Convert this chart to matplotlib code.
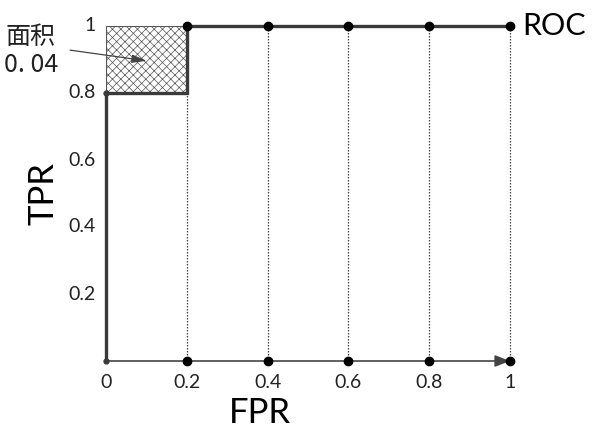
import matplotlib
matplotlib.use("Agg")
import matplotlib.pyplot as plt
from matplotlib.patches import Rectangle

# data
roc_fpr = [0, 0, 0.2, 0.2, 0.4, 0.6, 0.8, 1.0]
roc_tpr = [0, 0.8, 0.8, 1.0, 1.0, 1.0, 1.0, 1.0]
grid_x = [0.2, 0.4, 0.6, 0.8, 1.0]
x_ticks = [0, 0.2, 0.4, 0.6, 0.8, 1]
x_tick_labels = ["0", "0.2", "0.4", "0.6", "0.8", "1"]
y_ticks = [0.2, 0.4, 0.6, 0.8, 1]
y_tick_labels = ["0.2", "0.4", "0.6", "0.8", "1"]
area_x = [0, 0.2]
area_y = [0.8, 1.0]
area_label = "面积\n0. 04"

plt.rcParams['font.family'] = ['Lato', 'DejaVu Sans']
plt.rcParams['hatch.linewidth'] = 0.5
plt.rcParams['hatch.color'] = '#555555'
fig = plt.figure(figsize=(5.99, 4.30), dpi=100)
ax = fig.add_axes([106/599, 69/430, 404/599, 335/430])
ax.set_xlim(0, 1)
ax.set_ylim(0, 1)
ax.axis('off')

dark = '#3a3a3a'

# hatched area
ax.add_patch(Rectangle((area_x[0], area_y[0]), area_x[1]-area_x[0], area_y[1]-area_y[0],
                       facecolor='white', edgecolor='#555555', hatch='xxxx', lw=0.8, zorder=1))

# dotted verticals
for x in grid_x:
    ax.plot([x, x], [0, 1], ls=(0, (1.2, 1.2)), color='#444444', lw=0.9, zorder=2, clip_on=False)

# axes with arrows
ax.annotate('', xy=(1.0, 0), xytext=(0, 0),
            arrowprops=dict(arrowstyle='-|>,head_length=0.9,head_width=0.35', color='#444444', lw=1.2,
                            shrinkA=0, shrinkB=0), zorder=3)
ax.annotate('', xy=(0, 1.03), xytext=(0, 0),
            arrowprops=dict(arrowstyle='-|>,head_length=0.9,head_width=0.35', color='#444444', lw=1.2,
                            shrinkA=0, shrinkB=0), zorder=3)

# ROC line
ax.plot(roc_fpr, roc_tpr, color=dark, lw=2.4, zorder=4, solid_joinstyle='miter', clip_on=False)
ax.plot(grid_x, [1]*len(grid_x), 'o', color='black', ms=6, zorder=5, clip_on=False)
ax.plot(grid_x, [0]*len(grid_x), 'o', color='black', ms=6, zorder=5, clip_on=False)
ax.plot([0, 0], [0, 0.8], 'o', color=dark, ms=3.5, zorder=5, clip_on=False)

# tick labels
for x, lab in zip(x_ticks, x_tick_labels):
    ax.text(x, -0.063, lab, ha='center', va='center', fontsize=14, color='#222222')
for y, lab in zip(y_ticks, y_tick_labels):
    ax.text(-0.025, y, lab, ha='right', va='center', fontsize=14, color='#222222')

ax.text(0.38, -0.185, "FPR", ha='center', va='baseline', fontsize=25, color='black')
ax.text(-0.155, 0.5, "TPR", ha='center', va='center', rotation=90, fontsize=25, color='black')
ax.text(1.03, 1.0, "ROC", ha='left', va='center', fontsize=22, color='black')

ax.text(-0.186, 0.925, area_label, ha='center', va='center', fontsize=18, color='#222222',
        family=['Noto Sans CJK SC', 'DejaVu Sans'], linespacing=1.1)
ax.annotate('', xy=(0.101, 0.896), xytext=(-0.089, 0.928),
            arrowprops=dict(arrowstyle='-|>,head_length=0.9,head_width=0.25', color='#444444', lw=0.9,
                            shrinkA=0, shrinkB=0))

fig.savefig('out.png', dpi=100)
